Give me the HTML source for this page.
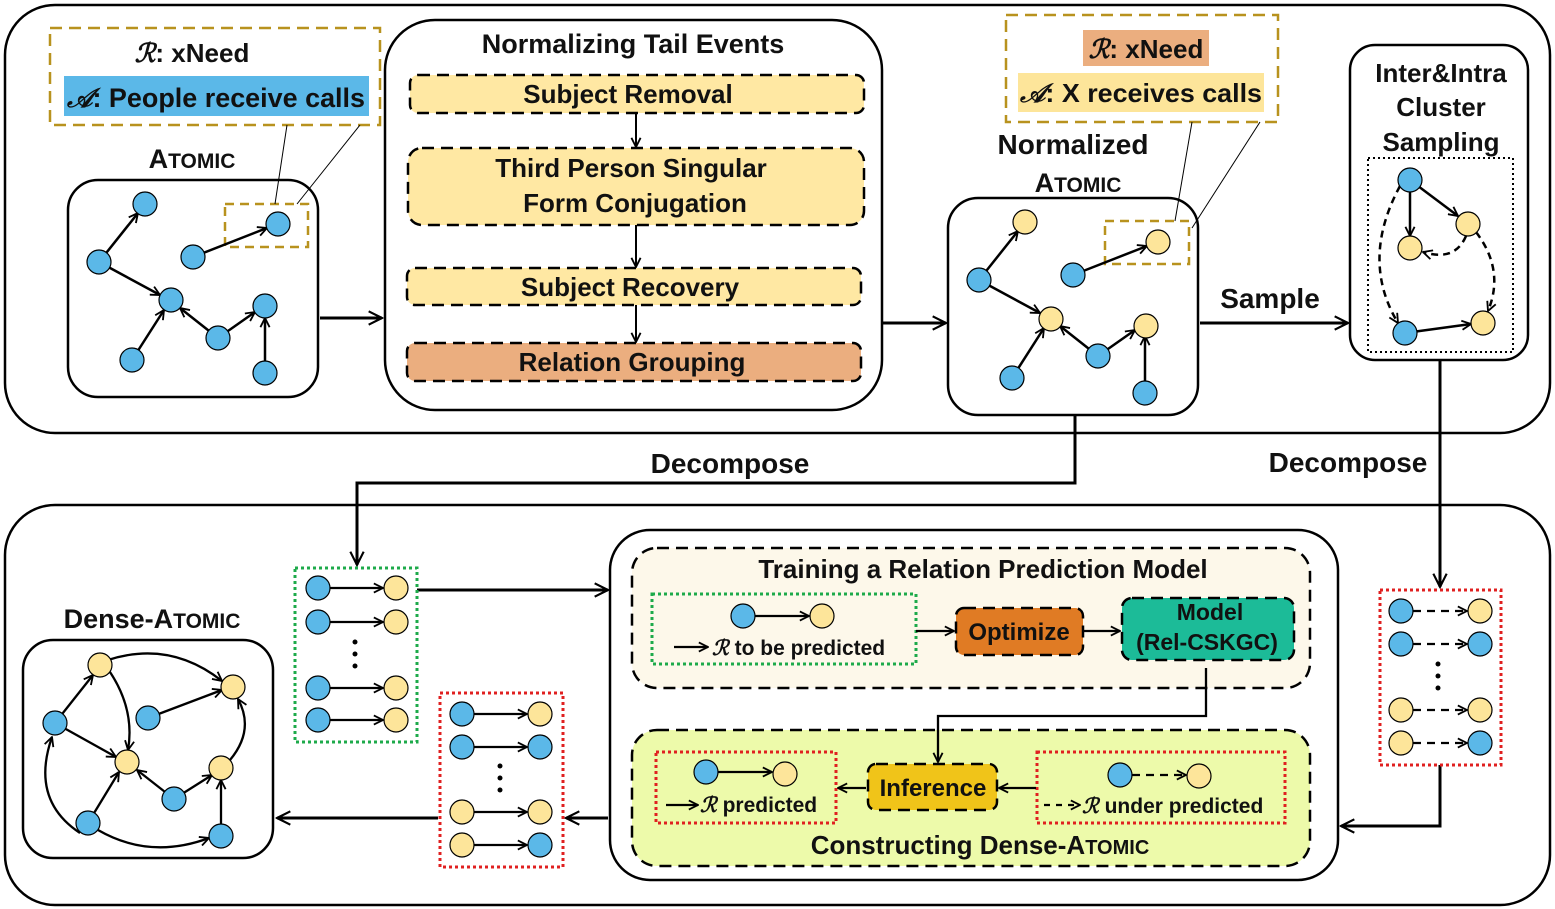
<!DOCTYPE html><html><head><meta charset="utf-8"><style>body{margin:0;background:#fff}svg{display:block}text{font-family:"Liberation Sans","DejaVu Sans",sans-serif;font-weight:bold;fill:#111}</style></head><body>
<svg width="1555" height="909" viewBox="0 0 1555 909" xmlns="http://www.w3.org/2000/svg">
<defs>
<marker id="a" viewBox="0 0 12 12" refX="11" refY="6" markerWidth="11" markerHeight="11" orient="auto" markerUnits="userSpaceOnUse"><path d="M1,1 L11,6 L1,11" fill="none" stroke="#000" stroke-width="2"/></marker>
<marker id="b" viewBox="0 0 12 12" refX="11" refY="6" markerWidth="16" markerHeight="16" orient="auto" markerUnits="userSpaceOnUse"><path d="M1,1 L11,6 L1,11" fill="none" stroke="#000" stroke-width="1.6"/></marker>
</defs>
<g fill="none" stroke="#000" stroke-width="2.5">
<rect x="5" y="5" width="1545" height="428" rx="50"/>
<rect x="5" y="505" width="1545" height="400" rx="50"/>
<rect x="68" y="180" width="250" height="217" rx="30"/>
<rect x="385" y="20" width="497" height="390" rx="50"/>
<rect x="948" y="198" width="250" height="217" rx="30"/>
<rect x="1350" y="45" width="178" height="315" rx="25"/>
<rect x="23" y="640" width="250" height="218" rx="30"/>
<rect x="610" y="530" width="728" height="350" rx="40"/>
</g>
<!-- callouts -->
<rect x="50" y="28" width="330" height="97" fill="none" stroke="#B8921E" stroke-width="2.5" stroke-dasharray="12,7"/>
<rect x="64" y="76" width="305" height="40" fill="#5BB8E8"/>
<text x="192" y="62" font-size="26" text-anchor="middle"><tspan font-style="italic" font-family="Liberation Serif">ℛ</tspan>: xNeed</text>
<text x="216" y="107" font-size="26.5" text-anchor="middle" textLength="298" lengthAdjust="spacingAndGlyphs"><tspan font-style="italic" font-family="Liberation Serif">𝒜</tspan>: People receive calls</text>
<rect x="225" y="204" width="83" height="43" fill="none" stroke="#B8921E" stroke-width="2.5" stroke-dasharray="9,6"/>
<line x1="275" y1="204" x2="287" y2="125" stroke="#000"/><line x1="297" y1="204" x2="360" y2="125" stroke="#000"/>
<text x="192" y="168" font-size="27" text-anchor="middle">A<tspan font-size="21">TOMIC</tspan></text>

<rect x="1006" y="15" width="272" height="107" fill="none" stroke="#B8921E" stroke-width="2.5" stroke-dasharray="12,7"/>
<rect x="1083" y="30" width="126" height="36" fill="#EBAE7F"/>
<rect x="1018" y="73" width="246" height="39" fill="#FDE59A"/>
<text x="1146" y="58" font-size="26" text-anchor="middle"><tspan font-style="italic" font-family="Liberation Serif">ℛ</tspan>: xNeed</text>
<text x="1141" y="102" font-size="26" text-anchor="middle" textLength="242" lengthAdjust="spacingAndGlyphs"><tspan font-style="italic" font-family="Liberation Serif">𝒜</tspan>: X receives calls</text>
<rect x="1105" y="221" width="84" height="43" fill="none" stroke="#B8921E" stroke-width="2.5" stroke-dasharray="9,6"/>
<line x1="1175" y1="221" x2="1192" y2="122" stroke="#000"/><line x1="1192" y1="228" x2="1260" y2="122" stroke="#000"/>
<text x="1073" y="154" font-size="28" text-anchor="middle">Normalized</text>
<text x="1078" y="192" font-size="27" text-anchor="middle">A<tspan font-size="21">TOMIC</tspan></text>

<!-- normalizing -->
<text x="633" y="53" font-size="27" text-anchor="middle">Normalizing Tail Events</text>
<g stroke="#000" stroke-width="2.5" stroke-dasharray="12,7">
<rect x="410" y="75" width="454" height="38" rx="8" fill="#FFE8A3"/>
<rect x="408" y="148" width="456" height="77" rx="14" fill="#FFE8A3"/>
<rect x="407" y="268" width="454" height="37" rx="8" fill="#FFE8A3"/>
<rect x="407" y="343" width="454" height="38" rx="8" fill="#EBAE7F"/>
</g>
<g stroke="#000" stroke-width="2" marker-end="url(#a)"><line x1="636" y1="113" x2="636" y2="147"/><line x1="636" y1="225" x2="636" y2="267"/><line x1="636" y1="305" x2="636" y2="342"/></g>
<g font-size="26" text-anchor="middle"><text x="628" y="103">Subject Removal</text><text x="631" y="177">Third Person Singular</text><text x="635" y="212">Form Conjugation</text><text x="630" y="296">Subject Recovery</text><text x="632" y="371">Relation Grouping</text></g>

<!-- big arrows -->
<g stroke="#000" stroke-width="3" fill="none" marker-end="url(#b)">
<line x1="320" y1="318" x2="382" y2="318"/><line x1="882" y1="323" x2="946" y2="323"/><line x1="1200" y1="323" x2="1348" y2="323"/>
<polyline points="1075,415 1075,483 357,483 357,565"/>
<polyline points="1440,360 1440,587"/>
<line x1="417" y1="590" x2="608" y2="590"/>
<line x1="608" y1="818" x2="566" y2="818"/>
<line x1="438" y1="818" x2="277" y2="818"/>
<polyline points="1440,765 1440,826 1341,826"/>
</g>
<text x="1270" y="308" font-size="28" text-anchor="middle">Sample</text>
<text x="730" y="473" font-size="28" text-anchor="middle">Decompose</text>
<text x="1348" y="472" font-size="28" text-anchor="middle">Decompose</text>

<!-- graphs -->
<g stroke="#000" stroke-width="2.5" marker-end="url(#a)" fill="none">
<line x1="99" y1="262" x2="138" y2="213"/><line x1="99" y1="262" x2="160" y2="295"/><line x1="132" y1="360" x2="164" y2="310"/><line x1="218" y1="338" x2="180" y2="308"/><line x1="218" y1="338" x2="255" y2="312"/><line x1="265" y1="373" x2="265" y2="318"/><line x1="193" y1="257" x2="267" y2="228"/>
<line x1="979" y1="280" x2="1018" y2="231"/><line x1="979" y1="280" x2="1040" y2="313"/><line x1="1012" y1="378" x2="1044" y2="328"/><line x1="1098" y1="356" x2="1060" y2="326"/><line x1="1098" y1="356" x2="1135" y2="330"/><line x1="1145" y1="391" x2="1145" y2="336"/><line x1="1073" y1="275" x2="1147" y2="246"/>
</g>
<g stroke="#000" stroke-width="1.2">
<g fill="#5BB8E8"><circle cx="145" cy="204" r="12"/><circle cx="99" cy="262" r="12"/><circle cx="171" cy="300" r="12"/><circle cx="132" cy="360" r="12"/><circle cx="218" cy="338" r="12"/><circle cx="265" cy="306" r="12"/><circle cx="265" cy="373" r="12"/><circle cx="193" cy="257" r="12"/><circle cx="278" cy="224" r="12"/>
<circle cx="979" cy="280" r="12"/><circle cx="1012" cy="378" r="12"/><circle cx="1098" cy="356" r="12"/><circle cx="1145" cy="393" r="12"/><circle cx="1073" cy="275" r="12"/></g>
<g fill="#FDE59A"><circle cx="1025" cy="222" r="12"/><circle cx="1051" cy="319" r="12"/><circle cx="1146" cy="326" r="12"/><circle cx="1158" cy="242" r="12"/></g>
</g>

<!-- inter intra -->
<text x="1441" y="82" font-size="26" text-anchor="middle">Inter&amp;Intra</text>
<text x="1441" y="116" font-size="26" text-anchor="middle">Cluster</text>
<text x="1441" y="151" font-size="26" text-anchor="middle">Sampling</text>
<rect x="1368" y="158" width="145" height="194" fill="none" stroke="#000" stroke-width="2" stroke-dasharray="2,3"/>
<g stroke="#000" stroke-width="2.5" fill="none" marker-end="url(#a)">
<line x1="1410" y1="180" x2="1410" y2="236"/><line x1="1410" y1="180" x2="1458" y2="216"/><line x1="1405" y1="333" x2="1471" y2="324"/>
<path d="M1466,236 Q1455,262 1423,252" stroke-dasharray="7,5"/>
<path d="M1400,186 Q1360,260 1398,323" stroke-dasharray="7,5"/>
<path d="M1476,232 Q1505,270 1488,311" stroke-dasharray="7,5"/>
</g>
<g stroke="#000" stroke-width="1.2"><circle cx="1410" cy="180" r="12" fill="#5BB8E8"/><circle cx="1468" cy="224" r="12" fill="#FDE59A"/><circle cx="1410" cy="248" r="12" fill="#FDE59A"/><circle cx="1405" cy="333" r="12" fill="#5BB8E8"/><circle cx="1483" cy="323" r="12" fill="#FDE59A"/></g>

<!-- Dense atomic -->
<text x="152" y="628" font-size="27" text-anchor="middle">Dense-A<tspan font-size="21">TOMIC</tspan></text>
<g stroke="#000" stroke-width="2.3" marker-end="url(#a)" fill="none">
<line x1="55" y1="723" x2="93" y2="675"/><path d="M108,660 Q170,640 222,681"/><path d="M110,672 Q135,710 128,750"/><line x1="148" y1="718" x2="222" y2="690"/><line x1="55" y1="723" x2="116" y2="757"/><line x1="174" y1="799" x2="137" y2="770"/><line x1="174" y1="799" x2="212" y2="775"/><line x1="221" y1="836" x2="221" y2="780"/><line x1="88" y1="823" x2="119" y2="772"/><path d="M98,830 Q150,860 209,838"/><path d="M80,833 Q30,800 52,737"/><path d="M230,760 Q255,730 238,699"/>
</g>
<g stroke="#000" stroke-width="1.2"><g fill="#FDE59A"><circle cx="100" cy="665" r="12"/><circle cx="233" cy="687" r="12"/><circle cx="127" cy="762" r="12"/><circle cx="221" cy="768" r="12"/></g><g fill="#5BB8E8"><circle cx="55" cy="723" r="12"/><circle cx="148" cy="718" r="12"/><circle cx="174" cy="799" r="12"/><circle cx="88" cy="823" r="12"/><circle cx="221" cy="836" r="12"/></g></g>

<!-- lists -->
<rect x="295" y="568" width="122" height="174" fill="none" stroke="#1DAA4A" stroke-width="3" stroke-dasharray="3,3"/>
<rect x="440" y="693" width="123" height="174" fill="none" stroke="#E02020" stroke-width="3" stroke-dasharray="3,3"/>
<rect x="1380" y="590" width="121" height="175" fill="none" stroke="#E02020" stroke-width="3" stroke-dasharray="3,3"/>
<g stroke="#000" stroke-width="2.3" marker-end="url(#a)">
<line x1="330" y1="588" x2="383" y2="588"/><line x1="330" y1="622" x2="383" y2="622"/><line x1="330" y1="688" x2="383" y2="688"/><line x1="330" y1="720" x2="383" y2="720"/>
<line x1="474" y1="714" x2="527" y2="714"/><line x1="474" y1="747" x2="527" y2="747"/><line x1="474" y1="812" x2="527" y2="812"/><line x1="474" y1="845" x2="527" y2="845"/>
<g stroke-dasharray="8,6"><line x1="1413" y1="611" x2="1467" y2="611"/><line x1="1413" y1="644" x2="1467" y2="644"/><line x1="1413" y1="710" x2="1467" y2="710"/><line x1="1413" y1="743" x2="1467" y2="743"/></g>
</g>
<g stroke="#000" stroke-width="1.2">
<g fill="#5BB8E8"><circle cx="318" cy="588" r="12"/><circle cx="318" cy="622" r="12"/><circle cx="318" cy="688" r="12"/><circle cx="318" cy="720" r="12"/><circle cx="462" cy="714" r="12"/><circle cx="462" cy="747" r="12"/><circle cx="540" cy="747" r="12"/><circle cx="540" cy="845" r="12"/><circle cx="1401" cy="611" r="12"/><circle cx="1401" cy="644" r="12"/><circle cx="1480" cy="644" r="12"/><circle cx="1480" cy="743" r="12"/></g>
<g fill="#FDE59A"><circle cx="396" cy="588" r="12"/><circle cx="396" cy="622" r="12"/><circle cx="396" cy="688" r="12"/><circle cx="396" cy="720" r="12"/><circle cx="540" cy="714" r="12"/><circle cx="462" cy="812" r="12"/><circle cx="540" cy="812" r="12"/><circle cx="462" cy="845" r="12"/><circle cx="1480" cy="611" r="12"/><circle cx="1401" cy="710" r="12"/><circle cx="1480" cy="710" r="12"/><circle cx="1401" cy="743" r="12"/></g>
</g>
<g fill="#000"><circle cx="355" cy="642" r="2.5"/><circle cx="355" cy="654" r="2.5"/><circle cx="355" cy="666" r="2.5"/><circle cx="500" cy="766" r="2.5"/><circle cx="500" cy="778" r="2.5"/><circle cx="500" cy="790" r="2.5"/><circle cx="1438" cy="664" r="2.5"/><circle cx="1438" cy="676" r="2.5"/><circle cx="1438" cy="688" r="2.5"/></g>

<!-- training -->
<g stroke="#000" stroke-width="2.5" stroke-dasharray="12,7">
<rect x="632" y="548" width="678" height="140" rx="25" fill="#FDF8EA"/>
<rect x="632" y="730" width="678" height="136" rx="25" fill="#EDFAAA"/>
<rect x="956" y="608" width="127" height="47" rx="8" fill="#E07B24"/>
<rect x="1122" y="598" width="172" height="62" rx="10" fill="#1CBB98"/>
<rect x="868" y="764" width="129" height="46" rx="8" fill="#F0C419"/>
</g>
<text x="983" y="578" font-size="26" text-anchor="middle">Training a Relation Prediction Model</text>
<text x="980" y="854" font-size="26" text-anchor="middle">Constructing Dense-A<tspan font-size="20">TOMIC</tspan></text>
<rect x="652" y="594" width="264" height="70" fill="none" stroke="#1DAA4A" stroke-width="3" stroke-dasharray="3,3"/>
<rect x="656" y="752" width="180" height="71" fill="none" stroke="#E02020" stroke-width="3" stroke-dasharray="3,3"/>
<rect x="1037" y="752" width="248" height="71" fill="none" stroke="#E02020" stroke-width="3" stroke-dasharray="3,3"/>
<text x="1019" y="640" font-size="24" text-anchor="middle">Optimize</text>
<text x="1210" y="620" font-size="23" text-anchor="middle">Model</text>
<text x="1207" y="650" font-size="23" text-anchor="middle">(Rel-CSKGC)</text>
<text x="933" y="796" font-size="24" text-anchor="middle">Inference</text>
<g font-size="21"><text x="712" y="655"><tspan font-style="italic" font-family="Liberation Serif">ℛ</tspan> to be predicted</text><text x="700" y="812"><tspan font-style="italic" font-family="Liberation Serif">ℛ</tspan> predicted</text><text x="1082" y="813"><tspan font-style="italic" font-family="Liberation Serif">ℛ</tspan> under predicted</text></g>
<g stroke="#000" stroke-width="2.3" fill="none" marker-end="url(#a)">
<line x1="755" y1="616" x2="809" y2="616"/><line x1="674" y1="647" x2="708" y2="647"/>
<line x1="718" y1="772" x2="772" y2="772"/><line x1="666" y1="805" x2="698" y2="805"/>
<line x1="1132" y1="775" x2="1186" y2="775" stroke-dasharray="8,6"/><line x1="1044" y1="805" x2="1080" y2="805" stroke-dasharray="6,6"/>
<line x1="916" y1="631" x2="954" y2="631"/><line x1="1083" y1="631" x2="1120" y2="631"/>
<polyline points="1206,668 1206,716 938,716 938,762"/>
<line x1="866" y1="788" x2="838" y2="788"/><line x1="1036" y1="788" x2="999" y2="788"/>
</g>
<g stroke="#000" stroke-width="1.2"><circle cx="743" cy="616" r="12" fill="#5BB8E8"/><circle cx="822" cy="616" r="12" fill="#FDE59A"/><circle cx="706" cy="772" r="12" fill="#5BB8E8"/><circle cx="785" cy="774" r="12" fill="#FDE59A"/><circle cx="1120" cy="775" r="12" fill="#5BB8E8"/><circle cx="1199" cy="776" r="12" fill="#FDE59A"/></g>
</svg></body></html>
